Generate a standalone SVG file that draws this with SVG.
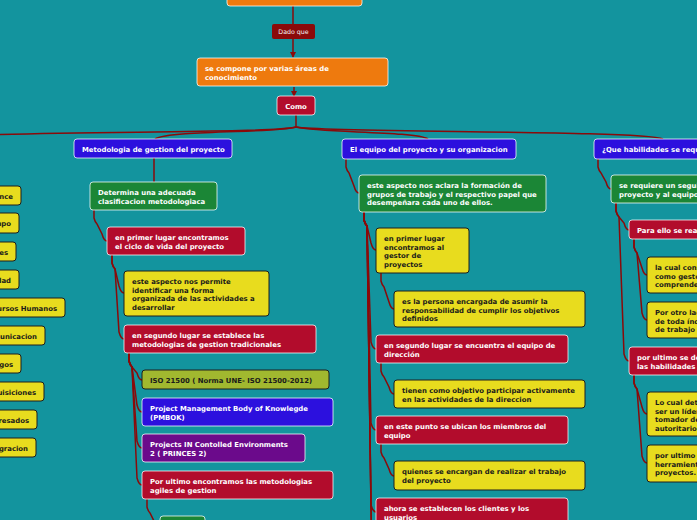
<svg xmlns="http://www.w3.org/2000/svg" width="697" height="520" viewBox="0 0 697 520">
<defs>
<marker id="ah" markerWidth="6" markerHeight="6" refX="5" refY="3" orient="auto" markerUnits="userSpaceOnUse">
<path d="M0,0 L6,3 L0,6 Z" fill="#8a0a0a"/>
</marker>
<style>
.bg{fill:#13949e}
.b{stroke:rgba(255,255,255,0.75);stroke-width:1}
.y{fill:#e8dc1e;stroke:#1e1e1e;stroke-width:1}
.ol{fill:#a1b82f;stroke:#1e1e1e;stroke-width:1}
.or{fill:#ee7a0e}
.cr{fill:#b20c2c}
.bl{fill:#2c10de}
.gr{fill:#1b8636}
.pu{fill:#6b0a8b}
.t{font-family:"DejaVu Sans",Verdana,sans-serif;font-weight:bold;font-size:6.9px}
.w{fill:#ffffff}
.k{fill:#1a1a1a}
.c{fill:none;stroke:#8a0a0a;stroke-width:1.5}
</style>
</defs>
<rect class="bg" x="0" y="0" width="697" height="520"/>

<g id="connectors">
<path class="c" d="M293,6 L293,24"/>
<path class="c" d="M293,39 L293,57" marker-end="url(#ah)"/>
<path class="c" d="M294,87 L294,96" marker-end="url(#ah)"/>
<path class="c" d="M296,115 L296,127"/>
<path class="c" d="M296,127 C270,133 100,131 -20,135"/>
<path class="c" d="M296,127 C280,133 170,130 155,139"/>
<path class="c" d="M296,127 C320,133 415,131 428,139"/>
<path class="c" d="M296,127 C330,133 640,130 663,139"/>
<path class="c" d="M154,158 L154,182"/>
<path class="c" d="M94,210 L94,218 Q95,222 97,224 L102,234 Q104,241 107,241"/>
<path class="c" d="M112,255 L112,263 Q113,267 115,269 L119,286 Q121,293 124,293"/>
<path class="c" d="M112,255 L112,263 Q113,267 115,269 L119,332 Q121,339 124,339"/>
<path class="c" d="M129,353 L129,361 Q130,365 132,367 L137,373 Q139,380 142,380"/>
<path class="c" d="M129,353 L129,361 Q130,365 132,367 L137,405 Q139,412 142,412"/>
<path class="c" d="M129,353 L129,361 Q130,365 132,367 L137,441 Q139,448 142,448"/>
<path class="c" d="M129,353 L129,361 Q130,365 132,367 L137,478 Q139,485 142,485"/>
<path class="c" d="M147,499 L147,507 Q148,511 150,513 L155,523 Q157,530 160,530"/>
<path class="c" d="M346,159 L346,167 Q347,171 349,173 L354,186 Q356,193 359,193"/>
<path class="c" d="M364,212 L364,220 Q365,224 367,226 L371,243 Q373,250 376,250"/>
<path class="c" d="M364,212 L364,220 Q365,224 367,226 L371,342 Q373,349 376,349"/>
<path class="c" d="M364,212 L364,220 Q365,224 367,226 L371,423 Q373,430 376,430"/>
<path class="c" d="M364,212 L364,220 Q365,224 367,226 L371,505 Q373,512 376,512"/>
<path class="c" d="M364,212 L364,220 Q365,224 367,226 L372,580 Q374,587 377,587"/>
<path class="c" d="M364,212 L364,220 Q365,224 367,226 L373,640 Q375,647 378,647"/>
<path class="c" d="M381,273 L381,281 Q382,285 384,287 L389,302 Q391,309 394,309"/>
<path class="c" d="M381,363 L381,371 Q382,375 384,377 L389,387 Q391,394 394,394"/>
<path class="c" d="M381,444 L381,452 Q382,456 384,458 L389,469 Q391,476 394,476"/>
<path class="c" d="M381,526 L381,534"/>
<path class="c" d="M598,159 L598,167 Q599,171 601,173 L606,182 Q608,189 611,189"/>
<path class="c" d="M616,203 L616,211 Q617,215 619,217 L624,223 Q626,230 629,230"/>
<path class="c" d="M616,203 L616,211 Q617,215 619,217 L624,354 Q626,361 629,361"/>
<path class="c" d="M634,239 L634,247 Q635,251 637,253 L642,268 Q644,275 647,275"/>
<path class="c" d="M634,239 L634,247 Q635,251 637,253 L642,313 Q644,320 647,320"/>
<path class="c" d="M634,375 L634,383 Q635,387 637,389 L642,407 Q644,414 647,414"/>
<path class="c" d="M634,375 L634,383 Q635,387 637,389 L642,456 Q644,463 647,463"/>
</g>

<g id="top"><rect class="or b" x="227" y="-20" width="135" height="26" rx="3"/></g>
<g id="dadoque"><rect x="272" y="24" width="43" height="15" rx="2" fill="#8b0a0a"/><text x="293.5" y="34" text-anchor="middle" font-family="DejaVu Sans, Verdana, sans-serif" font-size="6.3" fill="#f2f2f2">Dado que</text></g>
<g id="compone"><rect class="or b" x="197" y="58" width="191" height="28" rx="3"/><text class="t w" x="205" y="71"><tspan x="205">se compone por varias áreas de</tspan><tspan x="205" dy="8.5">conocimiento</tspan></text></g>
<g id="como"><rect class="cr b" x="277" y="96" width="38" height="19" rx="3"/><text class="t w" x="296" y="108.5" text-anchor="middle">Como</text></g>

<g id="alcance"><rect class="y" x="-150" y="186" width="171" height="19" rx="3"/><text class="t k" x="13" y="198.5" text-anchor="end">Alcance</text></g>
<g id="tiempo"><rect class="y" x="-150" y="213" width="169" height="20" rx="3"/><text class="t k" x="11" y="226" text-anchor="end">Tiempo</text></g>
<g id="costes"><rect class="y" x="-150" y="242" width="166" height="19" rx="3"/><text class="t k" x="8" y="254.5" text-anchor="end">Costes</text></g>
<g id="calidad"><rect class="y" x="-150" y="270" width="169" height="19" rx="3"/><text class="t k" x="11" y="282.5" text-anchor="end">Calidad</text></g>
<g id="rrhh"><rect class="y" x="-150" y="298" width="215" height="19" rx="3"/><text class="t k" x="57" y="310.5" text-anchor="end">Recursos Humanos</text></g>
<g id="comunicacion"><rect class="y" x="-150" y="326" width="195" height="19" rx="3"/><text class="t k" x="37" y="338.5" text-anchor="end">Comunicacion</text></g>
<g id="riesgos"><rect class="y" x="-150" y="354" width="171" height="19" rx="3"/><text class="t k" x="13" y="366.5" text-anchor="end">Riesgos</text></g>
<g id="adquisiciones"><rect class="y" x="-150" y="382" width="194" height="19" rx="3"/><text class="t k" x="36" y="394.5" text-anchor="end">Adquisiciones</text></g>
<g id="interesados"><rect class="y" x="-150" y="410" width="187" height="19" rx="3"/><text class="t k" x="29" y="422.5" text-anchor="end">Interesados</text></g>
<g id="integracion"><rect class="y" x="-150" y="438" width="186" height="19" rx="3"/><text class="t k" x="28" y="450.5" text-anchor="end">Integracion</text></g>

<g id="meto"><rect class="bl b" x="74" y="139" width="158" height="19" rx="3"/><text class="t w" x="82" y="151.5">Metodologia de gestion del proyecto</text></g>
<g id="determina"><rect class="gr b" x="90" y="182" width="127" height="28" rx="3"/><text class="t w" y="195"><tspan x="98">Determina una adecuada</tspan><tspan x="98" dy="8.5">clasificacion metodologiaca</tspan></text></g>
<g id="ciclo"><rect class="cr b" x="107" y="227" width="138" height="28" rx="3"/><text class="t w" y="240"><tspan x="115">en primer lugar encontramos</tspan><tspan x="115" dy="8.5">el ciclo de vida del proyecto</tspan></text></g>
<g id="aspecto1"><rect class="y" x="124" y="271" width="145" height="45" rx="3"/><text class="t k" y="284"><tspan x="132">este aspecto nos permite</tspan><tspan x="132" dy="8.5">identificar una forma</tspan><tspan x="132" dy="8.5">organizada de las actividades a</tspan><tspan x="132" dy="8.5">desarrollar</tspan></text></g>
<g id="segundo1"><rect class="cr b" x="124" y="325" width="192" height="28" rx="3"/><text class="t w" y="338"><tspan x="132">en segundo lugar se establece las</tspan><tspan x="132" dy="8.5">metodologias de gestion tradicionales</tspan></text></g>
<g id="iso"><rect class="ol" x="142" y="370" width="187" height="19" rx="3"/><text class="t k" x="150" y="382.5">ISO 21500 ( Norma UNE- ISO 21500-2012)</text></g>
<g id="pmbok"><rect class="bl b" x="142" y="398" width="191" height="28" rx="3"/><text class="t w" y="411"><tspan x="150">Project Management Body of Knowlegde</tspan><tspan x="150" dy="8.5">(PMBOK)</tspan></text></g>
<g id="princes"><rect class="pu b" x="142" y="434" width="163" height="28" rx="3"/><text class="t w" y="447"><tspan x="150">Projects IN Contolled Environments</tspan><tspan x="150" dy="8.5">2 ( PRINCES 2)</tspan></text></g>
<g id="agiles"><rect class="cr b" x="142" y="471" width="191" height="28" rx="3"/><text class="t w" y="484"><tspan x="150">Por ultimo encontramos las metodologias</tspan><tspan x="150" dy="8.5">agiles de gestion</tspan></text></g>
<g id="agilbox"><rect class="gr b" x="160" y="516" width="45" height="20" rx="3"/></g>

<g id="equipo"><rect class="bl b" x="342" y="139" width="174" height="20" rx="3"/><text class="t w" x="350" y="151.5">El equipo del proyecto y su organizacion</text></g>
<g id="forma"><rect class="gr b" x="359" y="175" width="187" height="37" rx="3"/><text class="t w" y="188"><tspan x="367">este aspecto nos aclara la formación de</tspan><tspan x="367" dy="8.5">grupos de trabajo y el respectivo papel que</tspan><tspan x="367" dy="8.5">desempeñara cada uno de ellos.</tspan></text></g>
<g id="gestor"><rect class="y" x="376" y="228" width="93" height="45" rx="3"/><text class="t k" y="241"><tspan x="384">en primer lugar</tspan><tspan x="384" dy="8.5">encontramos al</tspan><tspan x="384" dy="8.5">gestor de</tspan><tspan x="384" dy="8.5">proyectos</tspan></text></g>
<g id="persona"><rect class="y" x="394" y="291" width="191" height="36" rx="3"/><text class="t k" y="304"><tspan x="402">es la persona encargada de asumir la</tspan><tspan x="402" dy="8.5">responsabilidad de cumplir los objetivos</tspan><tspan x="402" dy="8.5">definidos</tspan></text></g>
<g id="direccion"><rect class="cr b" x="376" y="335" width="192" height="28" rx="3"/><text class="t w" y="348"><tspan x="384">en segundo lugar se encuentra el equipo de</tspan><tspan x="384" dy="8.5">dirección</tspan></text></g>
<g id="tienen"><rect class="y" x="394" y="380" width="191" height="28" rx="3"/><text class="t k" y="393"><tspan x="402">tienen como objetivo participar activamente</tspan><tspan x="402" dy="8.5">en las actividades de la direccion</tspan></text></g>
<g id="miembros"><rect class="cr b" x="376" y="416" width="192" height="28" rx="3"/><text class="t w" y="429"><tspan x="384">en este punto se ubican los miembros del</tspan><tspan x="384" dy="8.5">equipo</tspan></text></g>
<g id="quienes"><rect class="y" x="394" y="461" width="191" height="29" rx="3"/><text class="t k" y="474"><tspan x="402">quienes se encargan de realizar el trabajo</tspan><tspan x="402" dy="8.5">del proyecto</tspan></text></g>
<g id="clientes"><rect class="cr b" x="376" y="498" width="192" height="28" rx="3"/><text class="t w" y="511"><tspan x="384">ahora se establecen los clientes y los</tspan><tspan x="384" dy="8.5">usuarios</tspan></text></g>

<g id="habilidades"><rect class="bl b" x="594" y="139" width="220" height="20" rx="3"/><text class="t w" x="602" y="151.5">¿Que habilidades se requieren para la gestion de proyectos?</text></g>
<g id="seguimiento"><rect class="gr b" x="611" y="175" width="220" height="28" rx="3"/><text class="t w" y="188"><tspan x="619">se requiere un seguimiento continuo al</tspan><tspan x="619" dy="8.5">proyecto y al equipo de trabajo</tspan></text></g>
<g id="paraello"><rect class="cr b" x="629" y="220" width="220" height="19" rx="3"/><text class="t w" x="637" y="232.5">Para ello se realiza una planificacion</text></g>
<g id="lacual"><rect class="y" x="647" y="257" width="220" height="36" rx="3"/><text class="t k" y="270"><tspan x="655">la cual consiste en</tspan><tspan x="655" dy="8.5">como gestor</tspan><tspan x="655" dy="8.5">comprender el</tspan></text></g>
<g id="porotro"><rect class="y" x="647" y="302" width="220" height="36" rx="3"/><text class="t k" y="315"><tspan x="655">Por otro lado</tspan><tspan x="655" dy="8.5">de toda índole</tspan><tspan x="655" dy="8.5">de trabajo</tspan></text></g>
<g id="porultimo"><rect class="cr b" x="629" y="347" width="220" height="28" rx="3"/><text class="t w" y="360"><tspan x="637">por ultimo se destacan</tspan><tspan x="637" dy="8.5">las habilidades del gestor</tspan></text></g>
<g id="locual"><rect class="y" x="647" y="392" width="220" height="44" rx="3"/><text class="t k" y="405"><tspan x="655">Lo cual determina</tspan><tspan x="655" dy="8.5">ser un líder</tspan><tspan x="655" dy="8.5">tomador de decisiones</tspan><tspan x="655" dy="8.5">autoritario</tspan></text></g>
<g id="porultimo2"><rect class="y" x="647" y="445" width="220" height="37" rx="3"/><text class="t k" y="458"><tspan x="655">por ultimo las</tspan><tspan x="655" dy="8.5">herramientas</tspan><tspan x="655" dy="8.5">proyectos.</tspan></text></g>
</svg>
